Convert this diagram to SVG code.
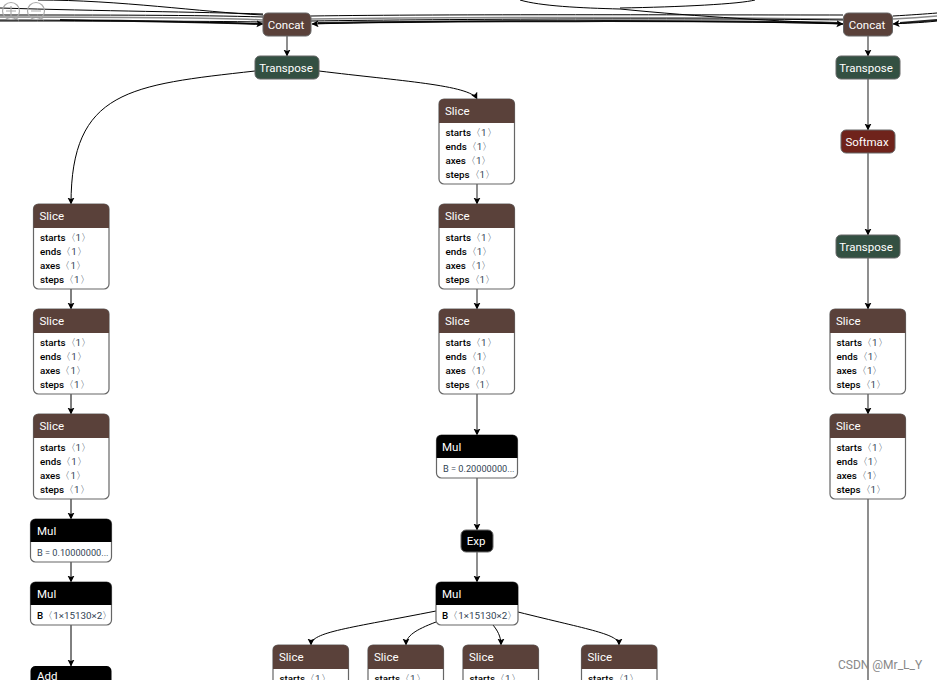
<svg xmlns="http://www.w3.org/2000/svg" width="937" height="680" viewBox="0 0 937 680">
<style>
text{font-family:Roboto,"Noto Sans","Liberation Sans",sans-serif;font-size:11px}
.box{fill:#fff;stroke:#666;stroke-width:1.2}
.t{fill:#fff;font-size:11.5px}
.k{fill:#000;font-size:9.8px;font-weight:500}
.v{fill:#345;font-size:9.8px}
.n{fill:#345;font-size:9.2px}
.e{fill:none;stroke:#000;stroke-width:1;marker-end:url(#a)}
.m{fill:none;stroke:#444;stroke-width:1.2;marker-end:url(#a)}
.g{fill:none;stroke:#000;stroke-width:1}
.h{fill:none;stroke:#222;stroke-width:2}
.s{fill:none;stroke:#888;stroke-width:1.5}
.i{fill:none;stroke:#aaa;stroke-width:1.2}
.brown{fill:#5a413a}.green{fill:#335042}.red{fill:#6f231b}.black{fill:#000}
.op{stroke:#666;stroke-width:1}
</style>
<defs>
<marker id="a" markerUnits="userSpaceOnUse" markerWidth="8" markerHeight="8" refX="6.5" refY="3.5" orient="auto"><path d="M0 0L7 3.500L0 7L1.500 3.500Z" fill="#000"/></marker>
<g id="slicebody">
<rect class="box" x="0" y="0" width="75.500" height="85" rx="5"/>
<path class="brown" d="M0 24V5a5 5 0 0 1 5-5H70.500a5 5 0 0 1 5 5V24Z"/>
<text class="t" x="6" y="16">Slice</text>
<text x="6.500" y="37"><tspan class="k">starts</tspan><tspan class="v">〈1〉</tspan></text>
<text x="6.500" y="51"><tspan class="k">ends</tspan><tspan class="v">〈1〉</tspan></text>
<text x="6.500" y="65"><tspan class="k">axes</tspan><tspan class="v">〈1〉</tspan></text>
<text x="6.500" y="79"><tspan class="k">steps</tspan><tspan class="v">〈1〉</tspan></text>
</g>
</defs>
<rect width="937" height="680" fill="#fff"/>
<g id="connectors">
<path class="g" d="M38 0C120 0 200 12 263 15"/>
<path class="g" d="M0 8C100 11 200 12 263 14"/>
<path class="g" d="M0 15C100 15 200 15 263 17"/>
<path class="s" d="M0 17C100 17 200 17 263 20"/>
<path class="g" d="M0 21C100 21 200 21 263 22"/>
<path class="h" d="M60 20C140 21 200 22 258 24"/>
<path class="e" d="M0 20C100 20 200 22 263 24"/>
<path class="g" d="M311 16C450 14 700 15 843 15"/>
<path class="s" d="M311 19C450 17 700 17 843 19"/>
<path class="g" d="M311 21C450 19 700 18 843 20"/>
<path class="h" d="M318 23C450 21 700 20 838 23"/>
<path class="e" d="M843 24C700 20 450 20 312 24"/>
<path class="e" d="M620 9C700 17 780 21 843 24"/>
<path class="g" d="M620 8C680 7 740 4 755 0"/>
<path class="g" d="M520 0C540 6 580 8 620 9"/>
<path class="g" d="M893 16C910 15 925 14 937 13"/>
<path class="s" d="M893 19C912 18 925 17 937 16"/>
<path class="h" d="M900 23C912 22 925 21 937 20"/>
<path class="e" d="M937 21C920 23 905 23 893 24"/>
<path class="m" d="M287 36V56"/>
<path class="e" d="M255 71C130 85 71 90 71 204"/>
<path class="e" d="M319 71C400 81 470 85 477 99"/>
<path class="e" d="M71 289V309"/>
<path class="e" d="M71 394V414"/>
<path class="e" d="M71 499V519"/>
<path class="e" d="M71 562V582"/>
<path class="e" d="M71 625V666"/>
<path class="m" d="M477 184V204"/>
<path class="m" d="M477 289V309"/>
<path class="m" d="M477 394V435"/>
<path class="m" d="M477 478V530"/>
<path class="m" d="M477 552V582"/>
<path class="e" d="M436 611C350 628 311 632 311 645"/>
<path class="e" d="M436 622C415 630 406 636 406 645"/>
<path class="e" d="M493 625C497 630 501 636 501 645"/>
<path class="e" d="M518 612C590 630 619 634 619 645"/>
<path class="m" d="M868 36V56"/>
<path class="m" d="M868 79V130"/>
<path class="m" d="M868 153V235"/>
<path class="m" d="M868 258V309"/>
<path class="m" d="M868 394V414"/>
<path class="m" style="marker-end:none" d="M868 499V680"/>
</g>
<g id="zoom-in"><circle class="i" cx="11" cy="11" r="8.5"/><path class="i" d="M6 11H16M11 6V16M16 18l3 2"/></g>
<g id="zoom-out"><circle class="i" cx="36" cy="11" r="8.5"/><path class="i" d="M31 11H41M41 18l3 2"/></g>
<g id="concat1"><rect class="brown op" x="263" y="13" width="48" height="23" rx="5"/><text class="t" x="286" y="29" text-anchor="middle">Concat</text></g>
<g id="concat2"><rect class="brown op" x="843.500" y="13" width="49" height="23" rx="5"/><text class="t" x="867" y="29" text-anchor="middle">Concat</text></g>
<g id="transpose1"><rect class="green op" x="255" y="56" width="64" height="23" rx="5"/><text class="t" x="286" y="72" text-anchor="middle">Transpose</text></g>
<g id="transpose2"><rect class="green op" x="836" y="56" width="64" height="23" rx="5"/><text class="t" x="866" y="72" text-anchor="middle">Transpose</text></g>
<g id="softmax"><rect class="red op" x="841" y="130" width="54" height="23" rx="5"/><text class="t" x="867" y="146" text-anchor="middle">Softmax</text></g>
<g id="transpose3"><rect class="green op" x="836" y="235" width="64" height="23" rx="5"/><text class="t" x="866" y="251" text-anchor="middle">Transpose</text></g>
<g id="slice-a1"><use href="#slicebody" x="33.500" y="204"/></g>
<g id="slice-a2"><use href="#slicebody" x="33.500" y="309"/></g>
<g id="slice-a3"><use href="#slicebody" x="33.500" y="414"/></g>
<g id="slice-b1"><use href="#slicebody" x="439" y="99"/></g>
<g id="slice-b2"><use href="#slicebody" x="439" y="204"/></g>
<g id="slice-b3"><use href="#slicebody" x="439" y="309"/></g>
<g id="slice-c1"><use href="#slicebody" x="830" y="309"/></g>
<g id="slice-c2"><use href="#slicebody" x="830" y="414"/></g>
<g id="slice-d1"><use href="#slicebody" x="273" y="645"/></g>
<g id="slice-d2"><use href="#slicebody" x="368" y="645"/></g>
<g id="slice-d3"><use href="#slicebody" x="463" y="645"/></g>
<g id="slice-d4"><use href="#slicebody" x="581.500" y="645"/></g>
<g id="mul-a1"><rect class="box" x="30.500" y="519" width="81" height="43" rx="5"/><path class="black" d="M30.500 542V524a5 5 0 0 1 5-5H106.500a5 5 0 0 1 5 5V542Z"/><text class="t" x="37" y="535">Mul</text><text class="n" x="37" y="556">B = 0.10000000...</text></g>
<g id="mul-a2"><rect class="box" x="30.500" y="582" width="81" height="43" rx="5"/><path class="black" d="M30.500 605V587a5 5 0 0 1 5-5H106.500a5 5 0 0 1 5 5V605Z"/><text class="t" x="37" y="598">Mul</text><text x="37" y="619"><tspan class="k">B</tspan><tspan class="v">〈1×15130×2〉</tspan></text></g>
<g id="add-a"><path class="black" d="M30.500 680V671a5 5 0 0 1 5-5H106.500a5 5 0 0 1 5 5V680Z"/><text class="t" x="37" y="680">Add</text></g>
<g id="mul-b1"><rect class="box" x="436.500" y="435" width="81" height="43" rx="5"/><path class="black" d="M436.500 458V440a5 5 0 0 1 5-5H512.500a5 5 0 0 1 5 5V458Z"/><text class="t" x="442" y="451">Mul</text><text class="n" x="443" y="472">B = 0.20000000...</text></g>
<g id="exp"><rect class="black op" x="461" y="530" width="32" height="22" rx="5"/><text class="t" x="476" y="545" text-anchor="middle">Exp</text></g>
<g id="mul-b2"><rect class="box" x="436" y="582" width="82" height="43" rx="5"/><path class="black" d="M436 605V587a5 5 0 0 1 5-5H513a5 5 0 0 1 5 5V605Z"/><text class="t" x="442" y="598">Mul</text><text x="442" y="619"><tspan class="k">B</tspan><tspan class="v">〈1×15130×2〉</tspan></text></g>
<text id="watermark" x="838" y="669" fill="#888" style="font-size:12px">CSDN @Mr_L_Y</text>
</svg>
